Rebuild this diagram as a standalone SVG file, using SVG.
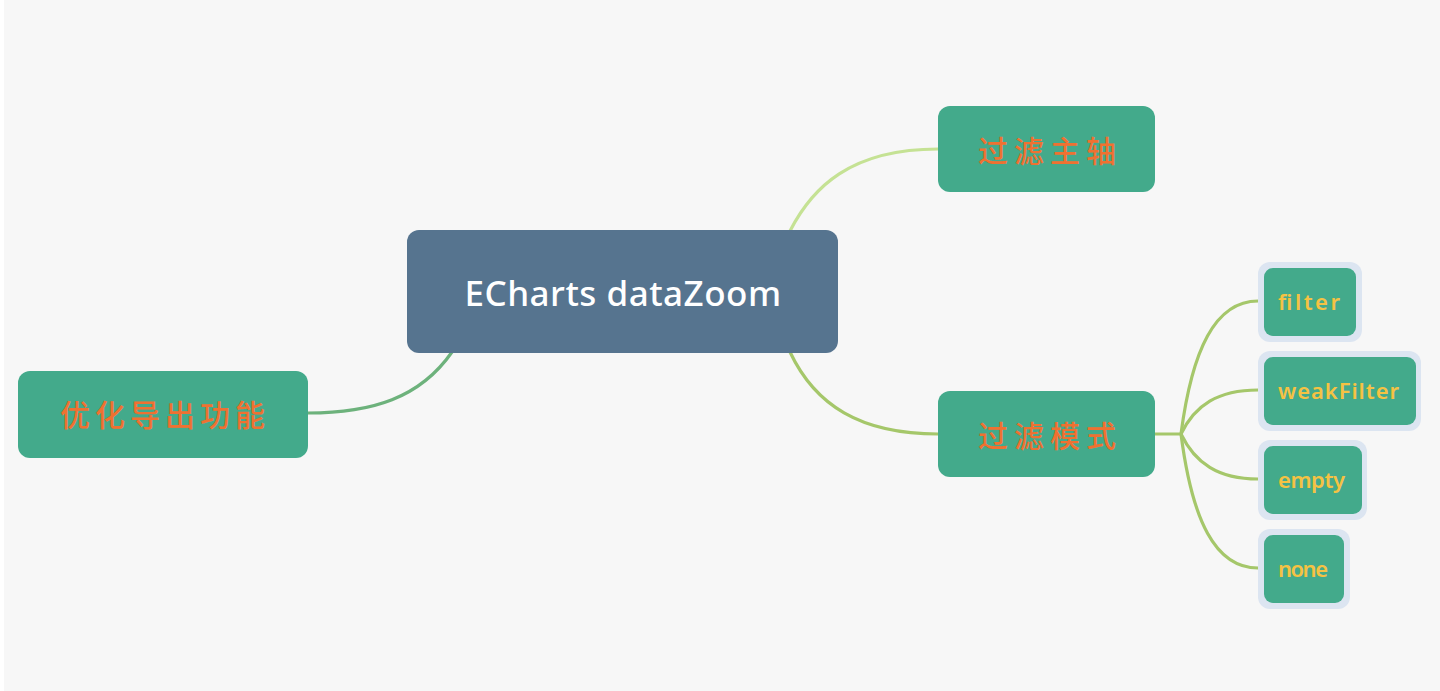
<svg xmlns="http://www.w3.org/2000/svg" width="1440" height="691" viewBox="0 0 1440 691">
<style>
.bg{fill:#f7f7f7}
.node{fill:#43aa8b}
.halo{fill:#dce5f1}
.cn{font-family:"Noto Sans CJK SC","Noto Sans",sans-serif;font-size:30px;fill:#ef7131;letter-spacing:5px;font-weight:500}
.leaf{font-family:"Noto Sans","Liberation Sans",sans-serif;font-size:22px;fill:#f5c243;font-weight:600}
.conn path{fill:none;stroke-width:3.2;stroke-linecap:round}
</style>
<rect x="0" y="0" width="1440" height="691" fill="#ffffff"/>
<rect class="bg" x="4" y="0" width="1436" height="691"/>
<g id="connectors" class="conn">
<path d="M790,231 C812,188 850,149 938,149" stroke="#c5e294"/>
<path d="M790,352 C815,405 860,434 938,434" stroke="#a5c76a"/>
<path d="M452,352 C420,398 372,413 308,413" stroke="#6db27c"/>
<path d="M1155,434 L1181,434" stroke="#a5c76a"/>
<path d="M1181,434 C1192,350 1215,301 1258,301" stroke="#a5c76a"/>
<path d="M1181,434 C1195,405 1218,390 1258,390" stroke="#a5c76a"/>
<path d="M1181,434 C1195,463 1218,479 1258,479" stroke="#a5c76a"/>
<path d="M1181,434 C1192,520 1215,568 1258,568" stroke="#a5c76a"/>
</g>
<g id="root">
<rect x="407" y="230" width="431" height="123" rx="12" fill="#56748f"/>
<text x="623" y="292" text-anchor="middle" dominant-baseline="central" font-family="'Noto Sans','Liberation Sans',sans-serif" font-size="35" font-weight="500" fill="#ffffff" letter-spacing="0.5">ECharts dataZoom</text>
</g>
<g id="n-export">
<rect class="node" x="18" y="371" width="290" height="87" rx="12"/>
<text class="cn" x="165" y="413" text-anchor="middle" dominant-baseline="central">优化导出功能</text>
</g>
<g id="n-axis">
<rect class="node" x="938" y="106" width="217" height="86" rx="12"/>
<text class="cn" x="1050" y="149" text-anchor="middle" dominant-baseline="central" style="letter-spacing:6px">过滤主轴</text>
</g>
<g id="n-mode">
<rect class="node" x="938" y="391" width="217" height="86" rx="12"/>
<text class="cn" x="1050" y="434" text-anchor="middle" dominant-baseline="central" style="letter-spacing:6px">过滤模式</text>
</g>
<g id="n-filter">
<rect class="halo" x="1258" y="262" width="104" height="80" rx="12"/>
<rect class="node" x="1264" y="268" width="92" height="68" rx="9"/>
<text class="leaf" x="1278" y="301" dominant-baseline="central" textLength="62" lengthAdjust="spacing">filter</text>
</g>
<g id="n-weakfilter">
<rect class="halo" x="1258" y="351" width="163" height="80" rx="12"/>
<rect class="node" x="1264" y="357" width="152" height="68" rx="9"/>
<text class="leaf" x="1278" y="390" dominant-baseline="central" textLength="121" lengthAdjust="spacing">weakFilter</text>
</g>
<g id="n-empty">
<rect class="halo" x="1258" y="440" width="109" height="80" rx="12"/>
<rect class="node" x="1264" y="446" width="98" height="68" rx="9"/>
<text class="leaf" x="1278" y="479" dominant-baseline="central" textLength="67" lengthAdjust="spacing">empty</text>
</g>
<g id="n-none">
<rect class="halo" x="1258" y="529" width="92" height="80" rx="12"/>
<rect class="node" x="1264" y="535" width="80" height="68" rx="9"/>
<text class="leaf" x="1278" y="568" dominant-baseline="central" textLength="50" lengthAdjust="spacing">none</text>
</g>
</svg>
